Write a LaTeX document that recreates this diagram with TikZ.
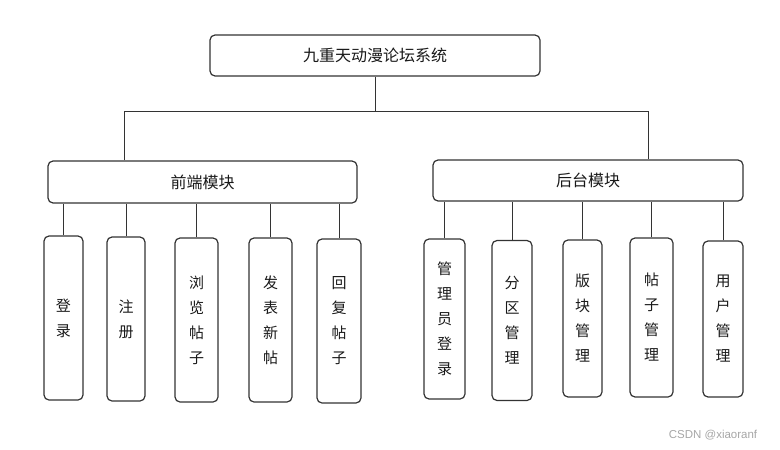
\documentclass[tikz,border=0pt]{standalone}
\usepackage{fontspec}
\newfontfamily\cjk{Noto Sans CJK SC}
\newfontfamily\wmfont{Liberation Sans}
\usetikzlibrary{positioning}

\begin{document}
\begin{tikzpicture}[x=1pt, y=-1pt,
    sysbox/.style={draw=black!80, line width=1.2pt, rounded corners=5pt,
        inner sep=0pt, text=black!90, font=\cjk\fontsize{16}{18}\selectfont},
    leafbox/.style={sysbox, minimum width=40pt, minimum height=164pt,
        align=center, font=\cjk\fontsize{15}{25}\selectfont},
    link/.style={draw=black!80, line width=1pt}]

    \useasboundingbox (0,0) rectangle (780,450);

    % =================================================================
    % Hệ thống và hai mô-đun
    % =================================================================
    \node[sysbox, minimum width=330pt, minimum height=41pt] (sys) at (375,55.5) {九重天动漫论坛系统};
    \node[sysbox, minimum width=309pt, minimum height=42pt] (front) at (202.5,182) {前端模块};
    \node[sysbox, minimum width=310pt, minimum height=41pt] (back) at (588,180.5) {后台模块};

    % Đường nối từ hệ thống xuống hai mô-đun
    \coordinate (bus) at (375,111);
    \coordinate (fl) at (124,111);
    \coordinate (bl) at (648,111);
    \draw[link] (sys.south) -- (bus);
    \draw[link] (fl |- front.north) -- (fl) -- (bl) -- (bl |- back.north);

    % =================================================================
    % Các chức năng của mô-đun trước
    % =================================================================
    \node[leafbox, minimum width=39pt] (login)  at (63.5,318)  {登\\录};
    \node[leafbox, minimum width=38pt] (reg)    at (126,319)   {注\\册};
    \node[leafbox, minimum width=43pt] (browse) at (196.5,320) {浏\\览\\帖\\子};
    \node[leafbox, minimum width=43pt] (post)   at (270.5,320) {发\\表\\新\\帖};
    \node[leafbox, minimum width=44pt] (reply)  at (339,321)   {回\\复\\帖\\子};

    % =================================================================
    % Các chức năng của mô-đun sau
    % =================================================================
    \node[leafbox, minimum width=41pt, minimum height=160pt] (admin)  at (444.5,319) {管\\理\\员\\登\\录};
    \node[leafbox, minimum width=40pt, minimum height=160pt] (zone)   at (512,320.5) {分\\区\\管\\理};
    \node[leafbox, minimum width=39pt, minimum height=157pt] (board)  at (582.5,318.5) {版\\块\\管\\理};
    \node[leafbox, minimum width=43pt, minimum height=159pt] (thread) at (651.5,317.5) {帖\\子\\管\\理};
    \node[leafbox, minimum width=40pt, minimum height=156pt] (user)   at (723,319)   {用\\户\\管\\理};

    % Đường nối mô-đun với chức năng
    \foreach \n in {login, reg, browse, post, reply}
        \draw[link] (\n.north) -- (\n.north |- front.south);
    \foreach \n in {admin, zone, board, thread, user}
        \draw[link] (\n.north) -- (\n.north |- back.south);

    % Dấu nguồn
    \node[text=black!35, font=\wmfont\fontsize{11.5}{13}\selectfont] (mark) at (713,435) {CSDN @xiaoranf};

\end{tikzpicture}
\end{document}
